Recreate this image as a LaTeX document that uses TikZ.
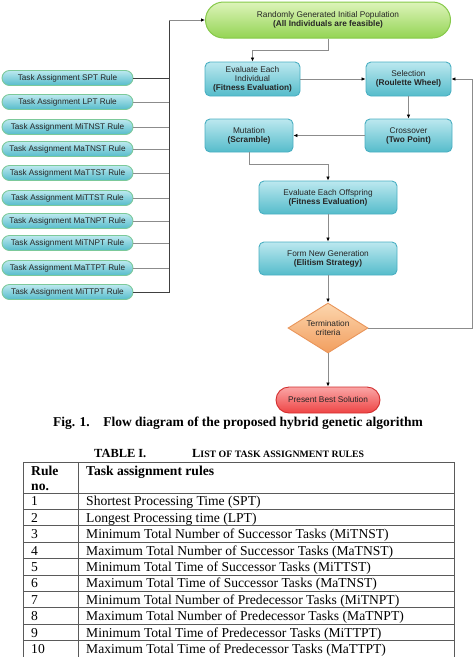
\documentclass[tikz,border=0pt]{standalone}
\usepackage{fontspec}
\setmainfont{Liberation Serif}
\setsansfont{Liberation Sans}
\usepackage{tikz}
\usetikzlibrary{arrows.meta,shapes.geometric,shapes.misc,calc}
\definecolor{TealTop}{HTML}{BCE8EF}
\definecolor{TealBot}{HTML}{55BCCB}
\definecolor{TealLine}{HTML}{4AAFC2}
\definecolor{RuleLine}{HTML}{7CC99A}
\definecolor{GreenTop}{HTML}{DDF4BA}
\definecolor{GreenBot}{HTML}{94D454}
\definecolor{GreenLine}{HTML}{86C94A}
\definecolor{OrangeTop}{HTML}{FCD6AE}
\definecolor{OrangeBot}{HTML}{F29E5E}
\definecolor{OrangeLine}{HTML}{E9955A}
\definecolor{RedTop}{HTML}{FAA6A6}
\definecolor{RedBot}{HTML}{EE4444}
\definecolor{RedLine}{HTML}{D22E2E}
\definecolor{LinkGray}{HTML}{8C8C8C}
\definecolor{TableLine}{HTML}{5A5A5A}

\tikzset{
  flowtext/.style={font=\sffamily\fontsize{8.3}{9}\selectfont,text=black!85,align=center,inner sep=0pt},
  rulebox/.style={flowtext,font=\sffamily\fontsize{8.2}{9}\selectfont,rounded rectangle,draw=RuleLine,line width=0.9pt,
    top color=TealTop,bottom color=TealBot,minimum width=131pt,minimum height=15pt},
  stepbox/.style={flowtext,rounded corners=5pt,draw=TealLine,line width=0.9pt,top color=TealTop,bottom color=TealBot},
  startbox/.style={flowtext,rounded rectangle,draw=GreenLine,line width=1pt,top color=GreenTop,bottom color=GreenBot,
    minimum width=245pt,minimum height=36pt},
  testbox/.style={flowtext,diamond,aspect=1.6,draw=OrangeLine,line width=0.9pt,top color=OrangeTop,bottom color=OrangeBot,
    minimum width=80pt,minimum height=50pt},
  endbox/.style={flowtext,rounded rectangle,draw=RedLine,line width=0.9pt,top color=RedTop,bottom color=RedBot,
    minimum width=104pt,minimum height=26pt},
  link/.style={LinkGray,line width=0.8pt,-{Latex[length=4pt,width=3.6pt,color=black]}},
  spoke/.style={LinkGray,line width=0.8pt},
  trunk/.style={black!75,line width=1pt},
  tabrule/.style={TableLine,line width=0.7pt},
  cell/.style={font=\fontsize{13.6}{15}\selectfont,anchor=base west,inner sep=0pt},
}

\begin{document}
\begin{tikzpicture}[x=1pt,y=-1pt,>=Latex]
  \useasboundingbox (0,0) rectangle (474,657);

  % flow of the genetic algorithm
  \node[startbox] (init) at (328,20) {Randomly Generated Initial Population\\\textbf{(All Individuals are feasible)}};
  \node[stepbox,minimum width=95pt,minimum height=34pt] (evalind) at (252.5,79) {Evaluate Each\\Individual\\\textbf{(Fitness Evaluation)}};
  \node[stepbox,minimum width=85pt,minimum height=34pt] (select) at (408.5,79) {Selection\\\textbf{(Roulette Wheel)}};
  \node[stepbox,minimum width=87pt,minimum height=33pt] (cross) at (408.5,135.5) {Crossover\\\textbf{(Two Point)}};
  \node[stepbox,minimum width=88pt,minimum height=33pt] (mutate) at (249,135.5) {Mutation\\\textbf{(Scramble)}};
  \node[stepbox,minimum width=138pt,minimum height=33pt] (evaloff) at (328,197.5) {Evaluate Each Offspring\\\textbf{(Fitness Evaluation)}};
  \node[stepbox,minimum width=138pt,minimum height=33pt] (newgen) at (328,258.5) {Form New Generation\\\textbf{(Elitism Strategy)}};
  \node[testbox] (stop) at (328,328) {Termination\\criteria};
  \node[endbox] (best) at (328,400) {Present Best Solution};

  \draw[link] (init.south) -- ++(0,12) -| (evalind.north);
  \draw[link] (evalind) -- (select);
  \draw[link] (select) -- (cross);
  \draw[link] (cross) -- (mutate);
  \draw[link] (mutate.south) -- ++(0,12) -| (evaloff.north);
  \draw[link] (evaloff) -- (newgen);
  \draw[link] (newgen) -- (stop);
  \draw[link] (stop) -- (best);
  \coordinate (back) at (472,79);
  \draw[link] (stop.east) -| (back) -- (select.east);

  % task assignment rules
  \foreach \r/\y [count=\i] in {SPT/78,LPT/102,MiTNST/127,MaTNST/149,MaTTST/173,MiTTST/198,MaTNPT/221,MiTNPT/243,MaTTPT/268,MiTTPT/292}
    \node[rulebox] (rule\i) at (67.5,\y) {Task Assignment \r\ Rule};
  \coordinate (split) at (169,20);
  \draw[trunk] (rule1.east) -- (rule1.east -| split);
  \foreach \i in {2,...,9}
    \draw[spoke] (rule\i.east) -- (rule\i.east -| split);
  \draw[trunk] (split) |- (rule10.east);
  \draw[link] (split) -- (init.west);

  \node[font=\bfseries\fontsize{13.5}{15}\selectfont,inner sep=0pt] (caption) at (238,423)
    {Fig. 1.\hspace{1em}Flow diagram of the proposed hybrid genetic algorithm};

  % table of rules
  \node[font=\bfseries\fontsize{12.4}{14}\selectfont,anchor=base west,inner sep=0pt] (tabno) at (94,457) {TABLE I.};
  \node[font=\bfseries\fontsize{12.4}{14}\selectfont,anchor=base west,inner sep=0pt] (tabtitle) at (192,457)
    {L{\fontsize{9.8}{12}\selectfont IST OF TASK ASSIGNMENT RULES}};
  \draw[tabrule] (23,665) -- (23,462) -- (454,462) -- (454,665);
  \draw[tabrule] (78,462) -- (78,665);
  \foreach \k in {0,...,10}
    \draw[tabrule] (23,493+16.4*\k) -- (454,493+16.4*\k);
  \node[cell,font=\bfseries\fontsize{13.6}{15}\selectfont] (headno) at (31,475) {Rule};
  \node[cell,font=\bfseries\fontsize{13.6}{15}\selectfont] (headno2) at (31,490) {no.};
  \node[cell,font=\bfseries\fontsize{13.6}{15}\selectfont] (headrule) at (86,475) {Task assignment rules};
  \foreach \n/\t [count=\k] in {1/{Shortest Processing Time (SPT)},2/{Longest Processing time (LPT)},
      3/{Minimum Total Number of Successor Tasks (MiTNST)},4/{Maximum Total Number of Successor Tasks (MaTNST)},
      5/{Minimum Total Time of Successor Tasks (MiTTST)},6/{Maximum Total Time of Successor Tasks (MaTNST)},
      7/{Minimum Total Number of Predecessor Tasks (MiTNPT)},8/{Maximum Total Number of Predecessor Tasks (MaTNPT)},
      9/{Minimum Total Time of Predecessor Tasks (MiTTPT)},10/{Maximum Total Time of Predecessor Tasks (MaTTPT)}}
  {
    \node[cell] (num\k) at (31,489.5+16.4*\k) {\n};
    \node[cell] (text\k) at (86,489.5+16.4*\k) {\t};
  }
\end{tikzpicture}
\end{document}
